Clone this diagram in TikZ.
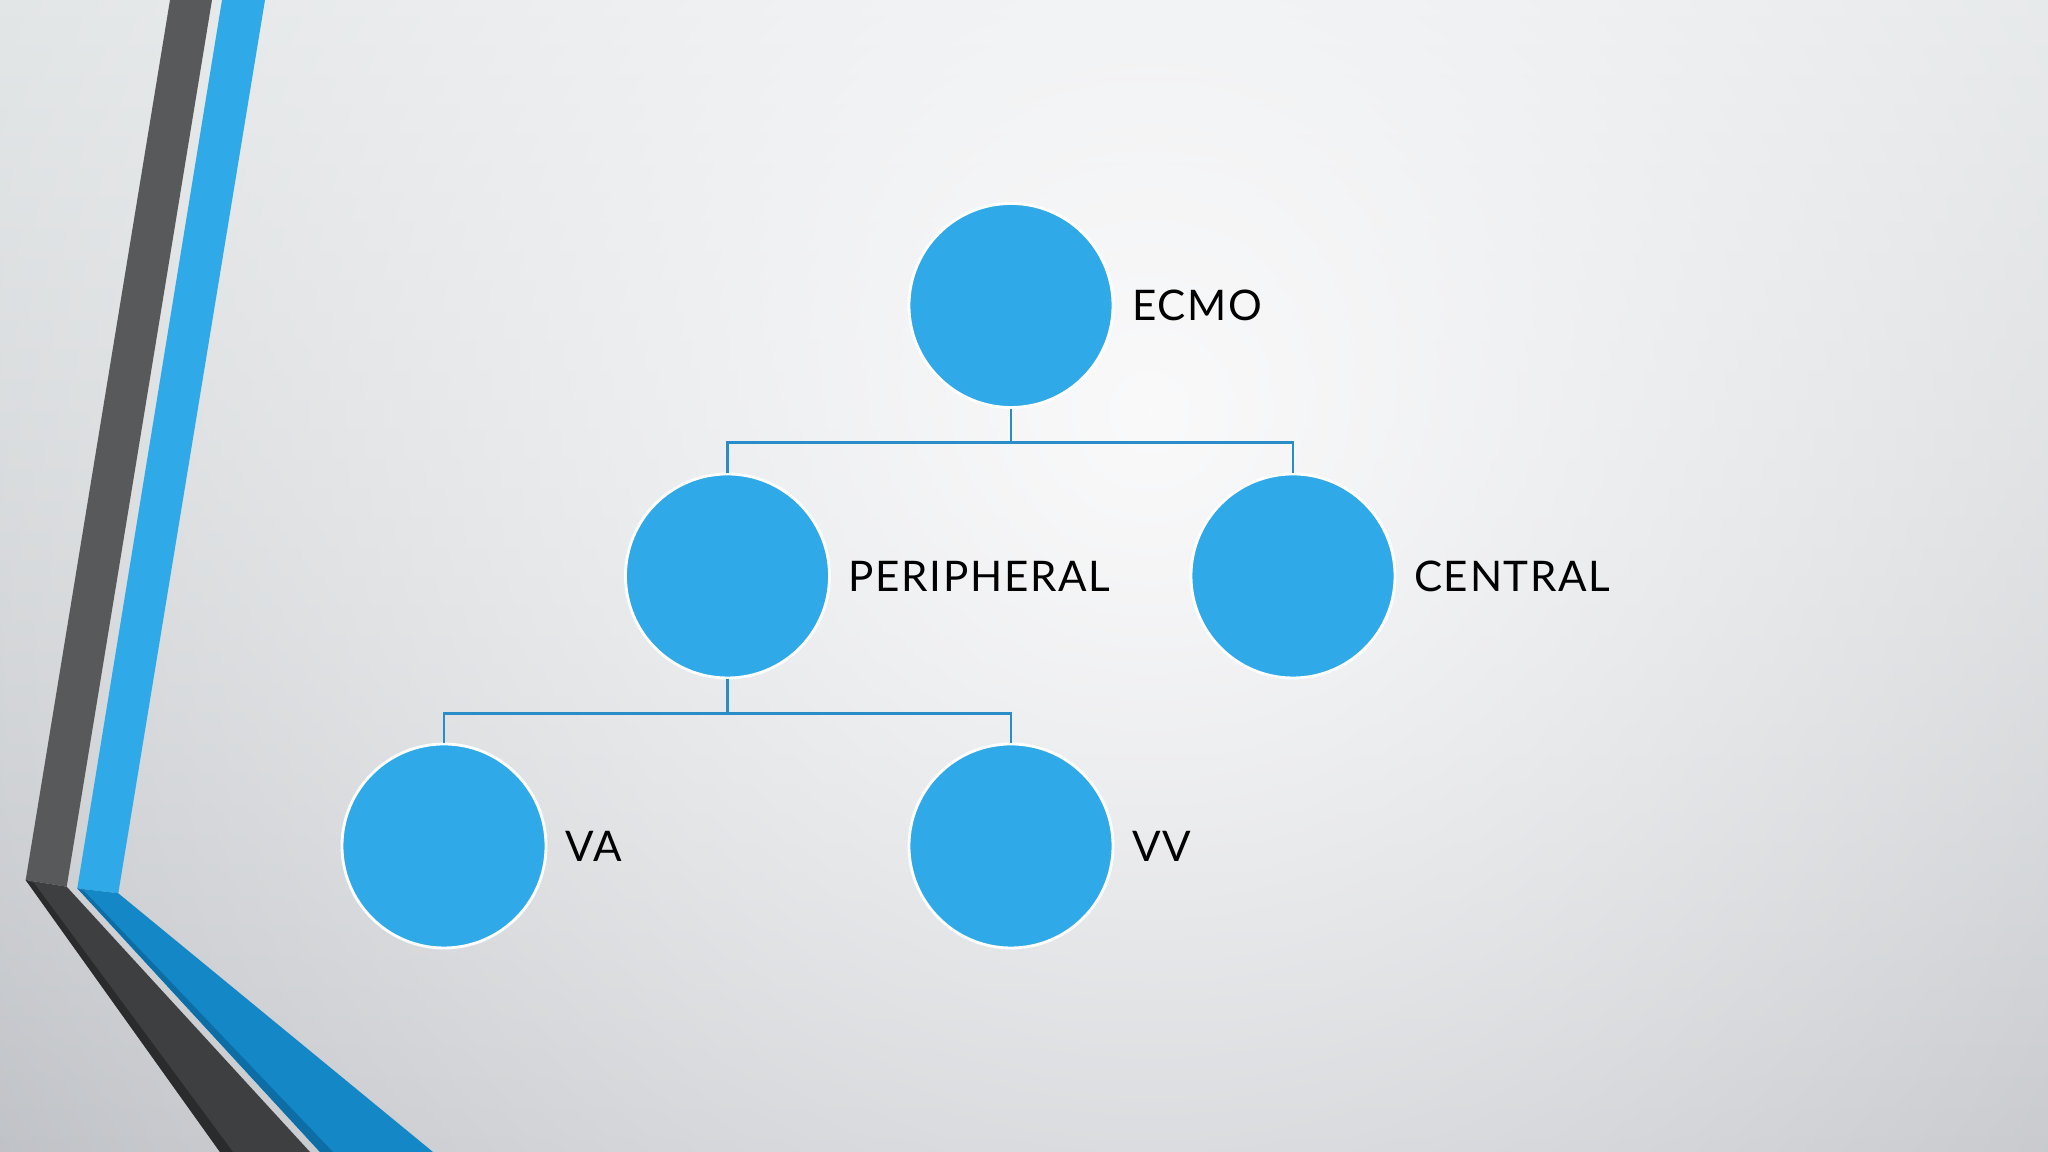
\documentclass[tikz,border=0pt]{standalone}
\usepackage{fontspec}
\setmainfont{Lato}
\usetikzlibrary{fadings}

\definecolor{azul}{HTML}{2FA9E8}
\definecolor{linha}{HTML}{2B8DC8}
\definecolor{cinzaesc}{HTML}{58595B}
\definecolor{cinzabaixo}{HTML}{3E3F41}
\definecolor{cinzasombra}{HTML}{2A2B2D}
\definecolor{azulbaixo}{HTML}{1487C7}
\definecolor{azulsombra}{HTML}{0D6DA5}
\definecolor{fundotopo}{HTML}{DCE0E1}
\definecolor{fundobase}{HTML}{B6B9BE}
\definecolor{fundoclaro}{HTML}{FAFAFB}

\tikzfading[name=brilho, inner color=transparent!0, outer color=transparent!100]

\tikzset{
  bolha/.style={circle, fill=azul, draw=white, line width=0.8pt, minimum size=2.04cm, inner sep=0pt},
  rotulo/.style={anchor=west, inner sep=0pt, xshift=0.17cm, font=\fontsize{12}{14}\selectfont\addfontfeatures{LetterSpace=4}},
  conector/.style={draw=linha, line width=0.7pt},
}

\begin{document}
\begin{tikzpicture}
% Fundo
\useasboundingbox (0,0) rectangle (20.48,11.52);
\begin{scope}
\clip (0,0) rectangle (20.48,11.52);
\shade[top color=fundotopo, bottom color=fundobase] (0,0) rectangle (20.48,11.52);
\fill[fundoclaro, path fading=brilho] (11.5,7.4) circle (16);
\end{scope}

% Faixas da esquerda
\fill[cinzaesc] (1.70,11.52) -- (2.12,11.52) -- (0.667,2.653) -- (0.257,2.72) -- cycle;
\fill[azul] (2.22,11.52) -- (2.65,11.52) -- (1.183,2.587) -- (0.773,2.637) -- cycle;
\fill[cinzabaixo] (0.257,2.72) -- (0.667,2.653) -- (3.10,0) -- (2.20,0) -- cycle;
\fill[cinzasombra] (0.257,2.72) -- (0.34,2.69) -- (2.33,0) -- (2.20,0) -- cycle;
\fill[azulbaixo] (0.773,2.637) -- (1.183,2.587) -- (4.33,0) -- (3.20,0) -- cycle;
\fill[azulsombra] (0.773,2.637) -- (0.84,2.61) -- (3.33,0) -- (3.20,0) -- cycle;

% Arvore
\node[bolha] (ecmo) at (10.11,8.465) {};
\node[bolha] (periferico) at (7.275,5.76) {};
\node[bolha] (central) at (12.93,5.76) {};
\node[bolha] (va) at (4.44,3.06) {};
\node[bolha] (vv) at (10.11,3.06) {};

\node[rotulo] (t-ecmo) at (ecmo.east) {ECMO};
\node[rotulo] (t-periferico) at (periferico.east) {PERIPHERAL};
\node[rotulo] (t-central) at (central.east) {CENTRAL};
\node[rotulo] (t-va) at (va.east) {VA};
\node[rotulo] (t-vv) at (vv.east) {VV};

\draw[conector] (ecmo.south) -- ++(0,-0.335) -| (periferico.north);
\draw[conector] (ecmo.south) -- ++(0,-0.335) -| (central.north);
\draw[conector] (periferico.south) -- ++(0,-0.34) -| (va.north);
\draw[conector] (periferico.south) -- ++(0,-0.34) -| (vv.north);
\end{tikzpicture}
\end{document}
